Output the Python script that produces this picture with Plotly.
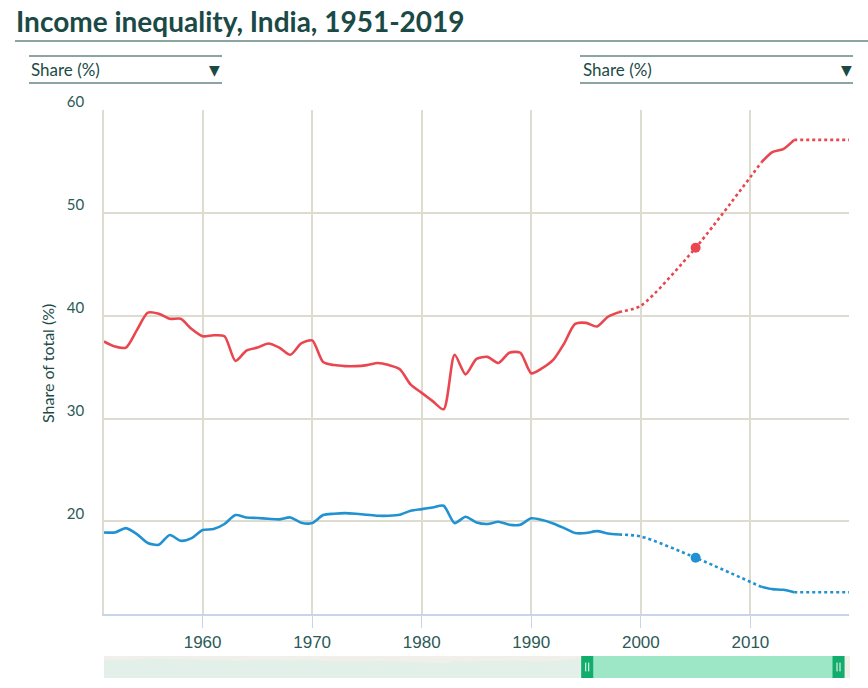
import plotly.graph_objects as go

# ---------------- data ----------------
years = list(range(1951, 1999))
top10 = [37.5, 37.0, 36.9, 38.6, 40.3, 40.2, 39.7, 39.7, 38.7, 38.0,
         38.1, 38.0, 35.6, 36.6, 36.9, 37.3, 36.9, 36.2, 37.3, 37.6,
         35.5, 35.2, 35.1, 35.1, 35.2, 35.4, 35.2, 34.8, 33.3, 32.5,
         31.7, 30.9, 36.2, 34.3, 35.8, 36.0, 35.4, 36.4, 36.4, 34.4,
         34.9, 35.7, 37.3, 39.2, 39.3, 38.95, 39.9, 40.35]
bottom50 = [18.93, 18.93, 19.35, 18.77, 17.9, 17.73, 18.68, 18.12, 18.38, 19.16,
            19.26, 19.75, 20.62, 20.39, 20.33, 20.26, 20.2, 20.39, 19.87, 19.84,
            20.62, 20.75, 20.81, 20.75, 20.65, 20.55, 20.55, 20.65, 21.04, 21.2,
            21.36, 21.52, 19.84, 20.46, 19.9, 19.75, 19.97, 19.68, 19.68, 20.3,
            20.13, 19.8, 19.35, 18.87, 18.87, 19.06, 18.83, 18.73]

recent_years = [2011, 2012, 2013, 2014]
top10_recent = [54.9, 55.9, 56.2, 57.1]
bottom50_recent = [13.64, 13.42, 13.35, 13.12]

gap_years = [1998, 2000, 2005, 2011]
top10_gap = [40.35, 40.97, 46.6, 54.9]
bottom50_gap = [18.73, 18.54, 16.47, 13.64]

tail_years = [2014, 2019]
top10_tail = [57.1, 57.1]
bottom50_tail = [13.12, 13.12]

point_year = [2005]
top10_point = [46.6]
bottom50_point = [16.47]

x_ticks = [1960, 1970, 1980, 1990, 2000, 2010]
y_ticks = [20, 30, 40, 50, 60]
slider_window = [1994.5, 2018.5]

# ---------------- style ----------------
RED = "#e9464f"
BLUE = "#2092d2"
TEAL = "#1b4a46"
TXT = "#2c5a56"
GRID = "#dddccf"
AXBLUE = "#c7d4ea"
W, H = 868, 688

def px(x):
    return x / W

def py(y):
    return 1 - y / H

fig = go.Figure()

def line(xs, ys, color, dash="solid"):
    fig.add_trace(go.Scatter(x=xs, y=ys, mode="lines",
                             line=dict(color=color, width=2.6, dash=dash,
                                       shape="spline", smoothing=0.7),
                             hoverinfo="skip", showlegend=False))

for c, a, b, g, t, p in [(RED, top10, top10_recent, top10_gap, top10_tail, top10_point),
                          (BLUE, bottom50, bottom50_recent, bottom50_gap, bottom50_tail, bottom50_point)]:
    line(gap_years, g, c, "dot")
    line(tail_years, t, c, "dot")
    line(years, a, c)
    line(recent_years, b, c)
    fig.add_trace(go.Scatter(x=point_year, y=p, mode="markers",
                             marker=dict(color=c, size=10),
                             hoverinfo="skip", showlegend=False))

# slider mini area
fig.add_trace(go.Scatter(x=years + recent_years, y=top10 + top10_recent,
                         mode="lines", fill="tozeroy", fillcolor="#e2f0e9",
                         line=dict(width=0, color="#e2f0e9", shape="spline"),
                         xaxis="x2", yaxis="y2", hoverinfo="skip", showlegend=False))

fig.update_layout(
    width=W, height=H,
    margin=dict(l=0, r=0, t=0, b=0),
    paper_bgcolor="white", plot_bgcolor="white",
    font=dict(family="Lato, 'Open Sans', sans-serif", color=TXT),
    xaxis=dict(domain=[px(104), px(849)], range=[1951, 2019],
               tickvals=x_ticks, showgrid=True, gridcolor=GRID, gridwidth=1.5,
               showline=True, linecolor=AXBLUE, linewidth=1.5,
               ticks="outside", ticklen=12, tickcolor=AXBLUE, tickwidth=1,
               tickfont=dict(family="'Liberation Sans Narrow', 'Arial Narrow', sans-serif",
                             size=17, color=TXT),
               zeroline=False, fixedrange=True, anchor="y", automargin=False),
    yaxis=dict(domain=[py(614), py(110)], range=[11, 60],
               tickvals=y_ticks, showgrid=True, gridcolor=GRID, gridwidth=1.5,
               showline=True, linecolor=GRID, linewidth=1.5,
               ticks="", tickfont=dict(size=15, color=TXT),
               ticklabelstandoff=15, ticklabelshift=-8,
               zeroline=False, fixedrange=True, anchor="x", automargin=False),
    xaxis2=dict(domain=[px(104), px(850)], range=[1951, 2019], visible=False,
                anchor="y2", fixedrange=True),
    yaxis2=dict(domain=[py(678), py(656)], range=[0, 46], visible=False,
                anchor="x2", fixedrange=True),
    hovermode=False,
)

shapes = [
    # slider background
    dict(type="rect", xref="x2 domain", yref="y2 domain", x0=0, x1=1, y0=0, y1=1,
         fillcolor="#f0efe9", line=dict(width=0), layer="below"),
    # selection
    dict(type="rect", xref="x2", yref="y2 domain", x0=slider_window[0], x1=slider_window[1],
         y0=0, y1=1, fillcolor="#9de7c6", line=dict(width=0)),
    # handles
    dict(type="rect", xref="x2", yref="y2 domain", xsizemode="pixel", xanchor=slider_window[0],
         x0=0, x1=12, y0=0, y1=1, fillcolor="#12ad6d", line=dict(width=0)),
    dict(type="rect", xref="x2", yref="y2 domain", xsizemode="pixel", xanchor=slider_window[1],
         x0=-12, x1=0, y0=0, y1=1, fillcolor="#12ad6d", line=dict(width=0)),
    # title rule
    dict(type="line", xref="paper", yref="paper", x0=px(15), x1=1, y0=py(41), y1=py(41),
         line=dict(color=TEAL, width=1.2)),
]
for xa, off in [(slider_window[0], 6), (slider_window[1], -6)]:
    for d in (-1.5, 1.5):
        shapes.append(dict(type="line", xref="x2", yref="y2 domain", xsizemode="pixel",
                           xanchor=xa, x0=off + d, x1=off + d, y0=0.3, y1=0.7,
                           line=dict(color="white", width=1)))
# dropdown rules
for x0, x1 in [(29, 222), (580, 853)]:
    for yy in (56, 83):
        shapes.append(dict(type="line", xref="paper", yref="paper", x0=px(x0), x1=px(x1),
                           y0=py(yy), y1=py(yy), line=dict(color=TEAL, width=1.2)))
fig.update_layout(shapes=shapes)

ann = [
    dict(text="<b>Income inequality, India, 1951-2019</b>", x=px(14), y=py(21),
         xanchor="left", yanchor="middle", font=dict(size=28, color=TEAL)),
    dict(text="Share of total (%)", x=px(47), y=py(364), textangle=-90,
         xanchor="center", yanchor="middle", font=dict(size=16, color=TEAL)),
]
for xl, xt in [(29, 214), (581, 846)]:
    ann.append(dict(text="Share (%)", x=px(xl), y=py(70), xanchor="left", yanchor="middle",
                    font=dict(size=17, color=TEAL)))
    ann.append(dict(text="▼", x=px(xt), y=py(70), xanchor="center", yanchor="middle",
                    font=dict(size=14, color=TEAL, family="DejaVu Sans")))
for a in ann:
    a.update(xref="paper", yref="paper", showarrow=False)
fig.update_layout(annotations=ann)

fig.write_html("out.html", config={"displayModeBar": False})
